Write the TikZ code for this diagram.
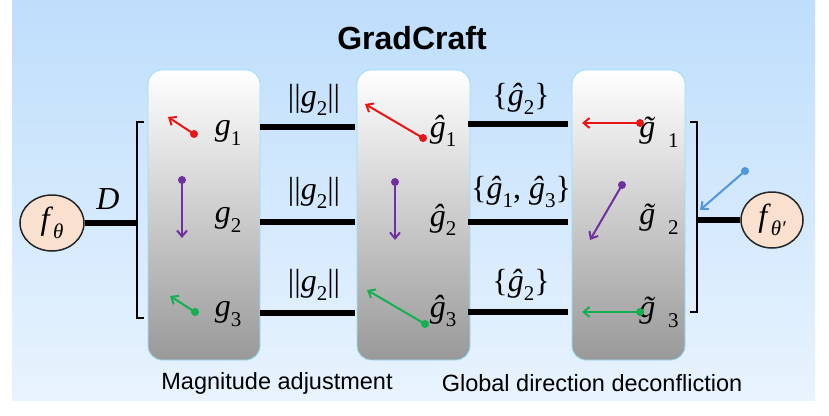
\documentclass[tikz,border=0pt]{standalone}
\usepackage{fontspec}
\setmainfont{Liberation Sans}
\newfontfamily\mf{Liberation Serif}
\usetikzlibrary{arrows.meta,shapes.geometric}
\newcommand{\lsub}[1]{\raisebox{-0.3em}{\fontsize{21}{22}\selectfont\upshape #1}}
\newcommand{\gv}{\textit{g}}
\definecolor{bgtop}{RGB}{190,222,252}
\definecolor{bgbot}{RGB}{232,243,253}
\definecolor{peach}{RGB}{250,224,206}
\definecolor{myred}{RGB}{235,20,20}
\definecolor{mypur}{RGB}{112,48,160}
\definecolor{mygreen}{RGB}{20,175,80}
\definecolor{myblue}{RGB}{80,150,220}
\tikzset{
  x=1pt,y=-1pt,
  panel/.style={draw=cyan!40,line width=0.8pt,rounded corners=14pt,top color=white,bottom color=gray!80},
  thick line/.style={line width=6pt},
  vec/.style={line width=2pt,-{Straight Barb[length=6pt,width=10pt]}},
  dotc/.style={circle,fill,inner sep=0pt,minimum size=8pt},
  lab/.style={inner sep=0.5pt,font=\mf\fontsize{32}{34}\selectfont},
  fnode/.style={ellipse,draw=black!85,line width=1.5pt,fill=peach,inner sep=0pt},
}
\begin{document}
\begin{tikzpicture}
\useasboundingbox (0,0) rectangle (829,415);
\fill[white] (0,0) rectangle (829,415);
\shade[top color=bgtop,bottom color=bgbot] (12,0) rectangle (815,400);
\node[font=\bfseries\fontsize{32}{34}\selectfont] (title) at (412,38) {GradCraft};
% panels
\draw[panel] (148,70) rectangle (260,360);
\draw[panel] (357,70) rectangle (470,360);
\draw[panel] (572,70) rectangle (685,360);
% f nodes
\node[fnode,minimum width=64pt,minimum height=56pt] (f) at (52,223) {};
\node[lab] at (f.center) {\textit{f}\lsub{\itshape θ}};
\node[fnode,minimum width=62pt,minimum height=56pt] (fp) at (772,220) {};
\node[lab] at (fp.center) {\textit{f}\lsub{\itshape θ′}};
% brackets
\draw[line width=1.5pt] (144,122) -- (137,122) -- (137,318) -- (144,318);
\draw[line width=1.5pt] (690,122) -- (697,122) -- (697,312) -- (690,312);
\coordinate (bl) at (137,223);
\coordinate (br) at (697,220);
\draw[thick line] (f.east) -- (bl);
\node[lab] (D) at (108,199) {\textit{D}};
\draw[thick line] (br) -- (fp.west);
% labels g
\node[lab] (g1) at (228,133) {\gv\lsub{1}};
\node[lab] (g2) at (228,220) {\gv\lsub{2}};
\node[lab] (g3) at (228,314) {\gv\lsub{3}};
\node[lab] (h1) at (443,131) {\textit{ĝ}\lsub{1}};
\node[lab] (h2) at (443,220) {\textit{ĝ}\lsub{2}};
\node[lab] (h3) at (443,311) {\textit{ĝ}\lsub{3}};
\node[lab] (t1) at (659,132) {\textit{g̃}\lsub{1}};
\node[lab] (t2) at (659,219) {\textit{g̃}\lsub{2}};
\node[lab] (t3) at (659,312) {\textit{g̃}\lsub{3}};
% connectors
\foreach \y/\a/\ly in {127/g1/100,222/g2/193,313/g3/285}{
  \coordinate (s\a) at (260,\y); \coordinate (e\a) at (355,\y);
  \draw[thick line] (s\a) -- (e\a);
  \node[lab] at (314,\ly) {||\gv\lsub{2}||};
}
\coordinate (a1) at (468,124); \coordinate (b1) at (568,124);
\coordinate (a2) at (468,222); \coordinate (b2) at (568,222);
\coordinate (a3) at (468,312); \coordinate (b3) at (568,312);
\draw[thick line] (a1) -- (b1);
\draw[thick line] (a2) -- (b2);
\draw[thick line] (a3) -- (b3);
\node[lab] (l1) at (521,99) {\{\textit{ĝ}\lsub{2}\}};
\node[lab] (l2) at (521,192) {\{\textit{ĝ}\lsub{1}, \textit{ĝ}\lsub{3}\}};
\node[lab] (l3) at (521,285) {\{\textit{ĝ}\lsub{2}\}};
% vectors
\foreach \sx/\sy/\ex/\ey/\c [count=\i] in {
 194/134/168/117/myred, 182/180/182/238/mypur, 195/312/170/296/mygreen,
 423/138/365/104/myred, 395/182/395/240/mypur, 425/324/367/290/mygreen,
 640/123/582/123/myred, 622/185/590/240/mypur, 640/312/582/312/mygreen,
 745/171/700/210/myblue}{
  \node[dotc,fill=\c] (d\i) at (\sx,\sy) {};
  \coordinate (v\i) at (\ex,\ey);
  \draw[vec,draw=\c] (d\i.center) -- (v\i);
}
\node[font=\fontsize{23.5}{26}\selectfont] (m1) at (277,383) {Magnitude adjustment};
\node[font=\fontsize{23.5}{26}\selectfont] (m2) at (592,383) {Global direction deconfliction};
\end{tikzpicture}
\end{document}
